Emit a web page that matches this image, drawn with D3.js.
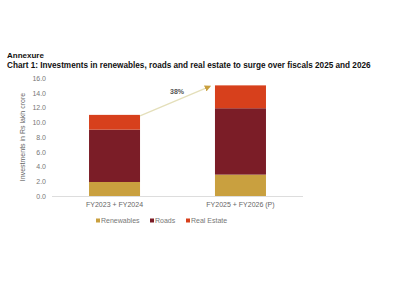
<!DOCTYPE html>
<html><head><meta charset="utf-8">
<script src="https://cdn.jsdelivr.net/npm/d3@7/dist/d3.min.js"></script>
<style>body{margin:0;background:#fff;}svg{display:block;font-family:"Liberation Sans",Arial,sans-serif;}</style>
</head><body><svg id="c" width="400" height="300"></svg>
<script>
const categories = ["FY2023 + FY2024", "FY2025 + FY2026 (P)"];
const seriesNames = ["Renewables", "Roads", "Real Estate"];
const renewables = [1.9, 2.9];
const roads = [7.1, 9.0];
const realEstate = [2.0, 3.1];
const yTicks = [0, 2, 4, 6, 8, 10, 12, 14, 16];
const growthLabel = "38%";
const colors = ["#c9a03f", "#7b1d27", "#d7401c"];

const svg = d3.select("#c");
svg.append("text").attr("x", 7).attr("y", 58).attr("font-size", 8).attr("font-weight", "bold").attr("fill", "#111").text("Annexure");
svg.append("text").attr("x", 7).attr("y", 68).attr("font-size", 8.2).attr("font-weight", "bold").attr("fill", "#111").text("Chart 1: Investments in renewables, roads and real estate to surge over fiscals 2025 and 2026");

const y = d3.scaleLinear().domain([0, 16]).range([196, 78]);
const x = d3.scaleBand().domain(categories).range([52, 303]).paddingInner(0.595).paddingOuter(0.294);

const data = categories.map((c, i) => ({cat: c, Renewables: renewables[i], Roads: roads[i], "Real Estate": realEstate[i]}));
const stack = d3.stack().keys(seriesNames)(data);

// y axis
const yAxis = svg.append("g").attr("transform", "translate(46,0)")
  .call(d3.axisLeft(y).tickValues(yTicks).tickFormat(d3.format(".1f")).tickSize(0).tickPadding(0));
yAxis.select(".domain").remove();
yAxis.selectAll("text").attr("font-size", 7).attr("fill", "#777").attr("font-family", "Liberation Sans, Arial, sans-serif");

svg.append("text").attr("transform", "translate(25,137) rotate(-90)").attr("text-anchor", "middle")
  .attr("font-size", 7).attr("fill", "#666").text("Investments in Rs lakh crore");

// bars
svg.append("g").selectAll("g").data(stack).join("g").attr("fill", (d, i) => colors[i])
  .selectAll("rect").data(d => d).join("rect")
  .attr("x", d => x(d.data.cat)).attr("width", x.bandwidth())
  .attr("y", d => y(d[1])).attr("height", d => y(d[0]) - y(d[1]));

// baseline
svg.append("line").attr("x1", 52).attr("x2", 303).attr("y1", y(0) + 0.5).attr("y2", y(0) + 0.5).attr("stroke", "#ddd").attr("stroke-width", 1);

// x axis labels
const xAxis = svg.append("g").attr("transform", `translate(0,${y(0)})`).call(d3.axisBottom(x).tickSize(0).tickPadding(6));
xAxis.select(".domain").remove();
xAxis.selectAll("text").attr("font-size", 7).attr("fill", "#666").attr("font-family", "Liberation Sans, Arial, sans-serif");

// growth arrow
const t0 = renewables[0] + roads[0] + realEstate[0];
const t1 = renewables[1] + roads[1] + realEstate[1];
const defs = svg.append("defs");
defs.append("marker").attr("id", "ah").attr("viewBox", "0 0 10 10").attr("refX", 8).attr("refY", 5)
  .attr("markerWidth", 5).attr("markerHeight", 5).attr("orient", "auto")
  .append("path").attr("d", "M0,0L10,5L0,10z").attr("fill", "#c9a03f");
const ax1 = x(categories[0]) + x.bandwidth(), ay1 = y(t0) + 1;
const ax2 = x(categories[1]) - 5, ay2 = y(t1) + 1;
svg.append("line").attr("x1", ax1).attr("y1", ay1).attr("x2", ax2).attr("y2", ay2)
  .attr("stroke", "#e4dfba").attr("stroke-width", 1.3).attr("marker-end", "url(#ah)");
svg.append("text").attr("x", 177).attr("y", 94).attr("text-anchor", "middle").attr("font-size", 7)
  .attr("font-weight", "bold").attr("fill", "#555").text(growthLabel);

// legend
const legX = [96, 150, 186];
const leg = svg.append("g");
seriesNames.forEach((n, i) => {
  leg.append("rect").attr("x", legX[i]).attr("y", 218.5).attr("width", 4).attr("height", 4).attr("fill", colors[i]);
  leg.append("text").attr("x", legX[i] + 5).attr("y", 223).attr("font-size", 7).attr("fill", "#777").text(n);
});
</script></body></html>
